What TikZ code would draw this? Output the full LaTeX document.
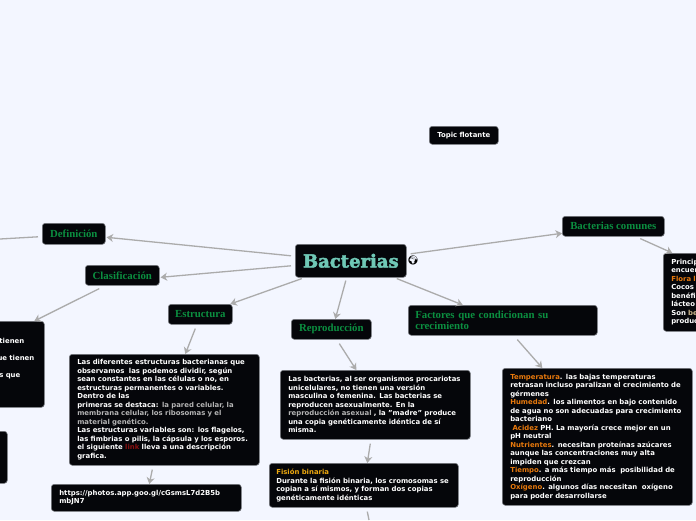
\documentclass[tikz,border=0pt]{standalone}
\usepackage{fontspec}
\usepackage{tikz}
\usetikzlibrary{calc,positioning,arrows.meta}
\setmainfont{DejaVu Sans}
\newfontfamily\titlefont{Liberation Serif}
\newfontfamily\rootfont[BoldFeatures={FakeBold=2.5}]{DejaVu Serif}
\newfontfamily\emojifont{Noto Emoji}
\definecolor{bgcolor}{HTML}{F3F6FF}
\definecolor{boxcolor}{HTML}{05060A}
\definecolor{edgecolor}{HTML}{777A80}
\definecolor{linkcolor}{HTML}{ABABAB}
\definecolor{titlegreen}{HTML}{0B8F40}
\definecolor{rootteal}{HTML}{6FC8B6}
\definecolor{hotorange}{HTML}{E8790C}
\definecolor{softgray}{HTML}{B4B4B4}
\definecolor{linkred}{HTML}{8A1010}
\definecolor{goldtext}{HTML}{EDA80F}
\definecolor{tantext}{HTML}{C9B48A}
\tikzset{
  topicbox/.style={draw=edgecolor,line width=0.6pt,fill=boxcolor,rounded corners=3pt,anchor=north west},
  titlebox/.style={topicbox,text=titlegreen,font=\titlefont\fontsize{10.8}{11.5}\selectfont\bfseries,inner sep=0pt,align=center},
  textbox/.style={topicbox,text=white,font=\fontsize{6.9}{8.5}\selectfont\bfseries,inner xsep=8pt,inner ysep=4pt,align=left},
  conn/.style={draw=linkcolor,line width=1.3pt,-{Stealth[length=6.5pt,width=8pt,inset=2pt]}},
  plainconn/.style={draw=linkcolor,line width=1.3pt}
}
\newcommand{\hot}[1]{\textcolor{hotorange}{#1}}
\begin{document}
\begin{tikzpicture}[x=1pt,y=-1pt]
\useasboundingbox (0,0) rectangle (696,520);
\clip (0,0) rectangle (696,520);
\fill[bgcolor] (0,0) rectangle (696,520);
% main topic
\node[topicbox,minimum width=111pt,minimum height=33pt,inner sep=0pt,text=rootteal,font=\rootfont\fontsize{18}{19}\selectfont\bfseries] (bact) at (295,244) {Bacterias};
\node[inner sep=0pt,font=\emojifont\fontsize{9}{9}\selectfont] (globe) at (413,260) {🌍};
\node[topicbox,minimum width=69pt,minimum height=18pt,inner sep=0pt,text=white,font=\fontsize{6.9}{8.5}\selectfont\bfseries] (floating) at (429,126) {Topic flotante};
% level one
\node[titlebox,minimum width=63pt,minimum height=21pt] (defin) at (42,223) {Definición};
\node[titlebox,minimum width=74pt,minimum height=20pt] (clasif) at (85,265) {Clasificación};
\node[titlebox,minimum width=64pt,minimum height=20pt] (estruct) at (168,304) {Estructura};
\node[titlebox,minimum width=80pt,minimum height=20pt] (reprod) at (291,319) {Reproducción};
\node[titlebox,minimum width=189pt,minimum height=30pt,text width=175pt,inner xsep=7pt,align=left] (factores) at (408,305) {Factores que condicionan su\\crecimiento};
\node[titlebox,minimum width=102pt,minimum height=20pt] (comunes) at (562,216) {Bacterias comunes};
% text boxes
\node[textbox,text width=174pt,minimum height=111pt] (estructtxt) at (69,354) {Las diferentes estructuras bacterianas que\\observamos\ \ las podemos dividir, según\\sean constantes en las células o no, en\\estructuras permanentes o variables.\\Dentro de las\\primeras se destaca: \textcolor{softgray}{la pared celular, la}\\\textcolor{softgray}{membrana celular, los ribosomas y el}\\\textcolor{softgray}{material genético.}\\Las estructuras variables son: los flagelos,\\las fimbrias o pilis, la cápsula y los esporos.\\el siguiente \textcolor{linkred}{link} lleva a una descripción\\grafica.};
\node[textbox,text width=174pt,minimum height=27pt] (url) at (51,484) {https://photos.app.goo.gl/cGsmsL7d2B5b\\mbJN7};
\node[textbox,text width=174pt,minimum height=69pt] (reprodtxt) at (280,370) {Las bacterias, al ser organismos procariotas\\unicelulares, no tienen una versión\\masculina o femenina. Las bacterias se\\reproducen asexualmente. En la\\\textcolor{softgray}{reproducción asexual} , la "madre" produce\\una copia genéticamente idéntica de sí\\misma.};
\node[textbox,text width=175pt,inner xsep=7pt,minimum height=44pt] (fision) at (269,463) {\textcolor{goldtext}{Fisión binaria}\\Durante la fisión binaria, los cromosomas se\\copian a sí mismos, y forman dos copias\\genéticamente idénticas};
\node[textbox,text width=174pt,minimum height=137pt] (factorestxt) at (502,368) {\hot{Temperatura}. las bajas temperaturas\\retrasan incluso paralizan el crecimiento de\\gérmenes\\\hot{Humedad}. los alimentos en bajo contenido\\de agua no son adecuadas para crecimiento\\bacteriano\\\ \hot{Acidez} PH. La mayoría crece mejor en un\\pH neutral\\\hot{Nutrientes}. necesitan proteínas azúcares\\aunque las concentraciones muy alta\\impiden que crezcan\\\hot{Tiempo}. a más tiempo más\ \ posibilidad de\\reproducción\\\hot{Oxígeno}. algunos días necesitan\ \ oxígeno\\para poder desarrollarse};
% boxes that run off the page
\node[textbox,text width=128pt,minimum height=86pt,align=right] (clasiftxt) at (-100,321) {\ \\tienen\kern12pt\\\ \\ue tienen\kern2pt\\\ \\s que\kern16pt\\\ \\\ };
\node[textbox,text width=91pt,minimum height=52pt] (lowbox) at (-100,431) {\ };
\node[textbox,text width=100pt,minimum height=78pt] (flora) at (663,253) {Princip\\encuen\\\hot{Flora l}\\Cocos\\benéfi\\lácteo\\Son \textcolor{tantext}{be}\\produc};
% connectors
\coordinate (defout) at (0,239);
\coordinate (fisionout) at (369,520);
\draw[conn] ([xshift=-4pt,yshift=5pt]bact.west) -- ([xshift=1pt,yshift=-3.5pt]defin.east);
\draw[conn] ([xshift=-4pt,yshift=-5pt]bact.west) -- ([xshift=1pt,yshift=-2pt]clasif.east);
\draw[conn] ([xshift=-49pt,yshift=-1pt]bact.south) -- ([xshift=30pt]estruct.north);
\draw[conn] ([xshift=-5pt,yshift=-3pt]bact.south) -- ([xshift=4pt]reprod.north);
\draw[conn] ([xshift=46pt,yshift=-1pt]bact.south) -- ([xshift=-40pt]factores.north);
\draw[conn] ([xshift=4pt,yshift=7pt]bact.east) -- ([yshift=-7pt]comunes.west);
\draw[plainconn] ([xshift=-4pt,yshift=-3pt]defin.west) -- (defout);
\draw[conn] ([xshift=-23pt,yshift=-3pt]clasif.south) -- ([xshift=62pt]clasiftxt.north);
\draw[conn] ([xshift=-5pt,yshift=-4pt]estruct.south) -- ([xshift=21pt]estructtxt.north);
\draw[conn] ([xshift=-12pt,yshift=-4pt]estructtxt.south) -- ([xshift=3pt]url.north);
\draw[conn] ([xshift=8pt,yshift=-4pt]reprod.south) -- ([xshift=-19pt]reprodtxt.north);
\draw[conn] ([xshift=-5pt,yshift=-4pt]reprodtxt.south) -- ([xshift=3.5pt]fision.north);
\draw[plainconn] ([xshift=3.5pt,yshift=-4pt]fision.south) -- (fisionout);
\draw[conn] ([xshift=14.5pt,yshift=-4pt]factores.south) -- ([xshift=-55pt]factorestxt.north);
\draw[conn] ([xshift=27pt,yshift=-2pt]comunes.south) -- ([xshift=-49pt]flora.north);
\end{tikzpicture}
\end{document}
